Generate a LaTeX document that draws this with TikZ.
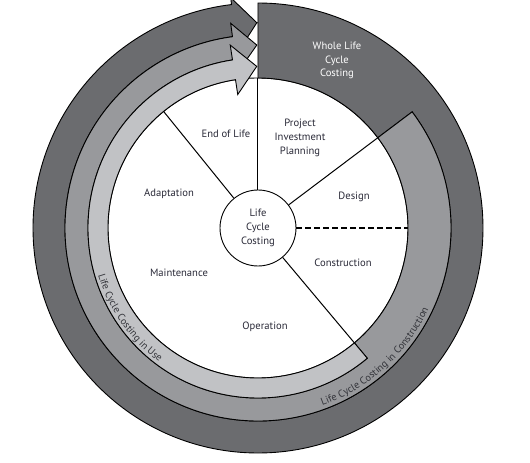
\documentclass[tikz,border=0pt]{standalone}
\usepackage{fontspec}
\setmainfont{PT Sans}
\usetikzlibrary{calc,decorations.text}
\definecolor{darkband}{HTML}{6B6C6F}
\definecolor{midband}{HTML}{98999C}
\definecolor{lightband}{HTML}{C1C2C5}
\definecolor{labelcol}{HTML}{2A2A38}
\definecolor{bandtext}{HTML}{33343A}
\newcommand\bandfont{\fontsize{10.2}{10}\selectfont}
\begin{document}
\begin{tikzpicture}[x=1pt,y=1pt,
  band/.style={draw=black, line width=0.9pt, line join=miter},
  divider/.style={draw=black, line width=1pt},
  dashdiv/.style={draw=black, line width=1.3pt, dash pattern=on 6pt off 3pt},
  lbl/.style={text=labelcol, font=\fontsize{10.6}{13.8}\selectfont, align=center},
  bandlabel/.style={decorate, decoration={text along path, text align=center, text color=bandtext}}]
\useasboundingbox (-258,-235) rectangle (272,228);
% white disk
\draw[fill=white, line width=0.9pt] (0,0) circle[radius=150];
% Whole life cycle costing (dark)
\filldraw[band, fill=darkband] (90:150) -- (90:225)
  arc[start angle=90, end angle=-263.24, radius=225]
  -- (-263.24:232) -- ($(-263.24:204)+(-353.24:23)$) -- (-263.24:176) -- (-263.24:193)
  arc[start angle=-263.24, end angle=37, radius=193]
  -- (37:150) arc[start angle=37, end angle=90, radius=150] -- cycle;
% Life cycle costing in construction (mid)
\filldraw[band, fill=midband] (37:150) -- (37:193)
  arc[start angle=37, end angle=-262.4, radius=193]
  -- (-262.4:206.5) -- ($(-262.4:181.5)+(-352.4:23)$) -- (-262.4:156.5) -- (-262.4:170)
  arc[start angle=-262.4, end angle=-50, radius=170]
  -- (-50:150) arc[start angle=-50, end angle=37, radius=150] -- cycle;
% Life cycle costing in use (light)
\filldraw[band, fill=lightband] (-50:150) -- (-50:170)
  arc[start angle=-50, end angle=-261.37, radius=170]
  -- (-261.37:185) -- ($(-261.37:160)+(-351.37:23)$) -- (-261.37:135) -- (-261.37:150)
  arc[start angle=-261.37, end angle=-50, radius=150] -- cycle;
% centre
\node[circle, draw, fill=white, minimum size=76pt, inner sep=0pt, line width=0.9pt, lbl] (lcc) at (0,0) {Life\\Cycle\\Costing};
\coordinate (d90) at (90:150);
\coordinate (d37) at (37:150);
\coordinate (d0) at (0:150);
\coordinate (dm50) at (-50:150);
\coordinate (d129) at (129:150);
\draw[divider] (lcc.90) -- (d90);
\draw[divider] (lcc.37) -- (d37);
\draw[divider] (lcc.-50) -- (dm50);
\draw[divider] (lcc.129) -- (d129);
\draw[dashdiv] (lcc.0) -- (d0);
% labels
\node[lbl] (eol) at (-32,94) {End of Life};
\node[lbl] (pip) at (42,90) {Project\\Investment\\Planning};
\node[lbl] (des) at (96,31) {Design};
\node[lbl] (ada) at (-89,34) {Adaptation};
\node[lbl] (con) at (85,-35) {Construction};
\node[lbl] (mai) at (-79,-45) {Maintenance};
\node[lbl] (ope) at (7,-99) {Operation};
\node[lbl, text=white] (wlc) at (79,167.5) {Whole Life\\Cycle\\Costing};
% curved band labels
\path[bandlabel, decoration={text={|\bandfont|Life Cycle Costing in Use}}] (170:166.5) arc[start angle=170, end angle=260, radius=166.5];
\path[bandlabel, decoration={text={|\bandfont|Life Cycle Costing in Construction}}] (-100:189) arc[start angle=-100, end angle=4.5, radius=189];
\end{tikzpicture}
\end{document}
